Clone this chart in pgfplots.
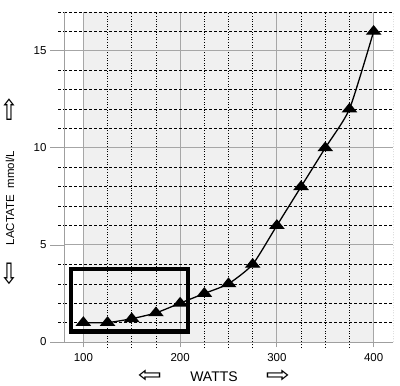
\documentclass[border=0pt]{standalone}
\usepackage{pgfplots}
\pgfplotsset{compat=1.18}
\usepackage{fontspec}
\setmainfont{Liberation Sans}
\newfontfamily\arrowfont{DejaVu Sans}
\begin{document}
\begin{tikzpicture}
\begin{axis}[
  name=ax,
  set layers,
  scale only axis,
  width=329pt, height=330pt,
  xmin=80, xmax=420, ymin=0, ymax=17,
  xtick={100,200,300,400},
  minor xtick={125,150,175,225,250,275,325,350,375},
  ytick={0,5,10,15},
  minor ytick={1,2,3,4,6,7,8,9,11,12,13,14,16,17},
  axis x line*=bottom, axis y line*=left,
  axis line style={gray!75, line width=0.8pt, -},
  grid=both,
  major grid style={gray!70, line width=0.9pt},
  every minor x tick/.append style={black, dash pattern=on 1pt off 1.6pt, line width=0.5pt},
  every minor y tick/.append style={black, dash pattern=on 3pt off 2pt, line width=0.5pt},
  minor x grid style={black, dash pattern=on 1pt off 1.6pt, line width=0.5pt},
  minor y grid style={black, dash pattern=on 3pt off 2pt, line width=0.5pt},
  tick align=outside,
  major tick length=5pt, minor tick length=6pt,
  every major tick/.append style={gray!75, line width=0.8pt},
  tick label style={font=\fontsize{11.5}{13}\selectfont, black},
  /pgf/number format/assume math mode=true,
  xticklabel style={yshift=-3pt},
  yticklabel style={xshift=-9pt},
]
\addplot[fill=gray!12, draw=none, on layer=axis background] coordinates {(100,0) (400,0) (400,17) (100,17)} \closedcycle;
\addplot[black, dash pattern=on 1pt off 1.6pt, line width=0.5pt] coordinates {(420,0) (420,17)};
\addplot[black, line width=4.5pt, line cap=rect, line join=miter] coordinates {(87,0.54) (208,0.54) (208,3.77) (87,3.77) (87,0.54)};
\addplot[black, line width=1.3pt, smooth, tension=0.35, mark=triangle*, mark size=5pt, mark options={xscale=1.5, yscale=1.07, solid}] coordinates {
(100,1) (125,1) (150,1.2) (175,1.5) (200,2) (225,2.5) (250,3) (275,4) (300,6) (325,8) (350,10) (375,12) (400,16)};
\end{axis}
% long y major ticks
\foreach \yy in {0,5,10,15} {
  \draw[gray!75, line width=0.8pt] ([yshift=\yy*330pt/17]ax.south west) -- ++(-14pt,0);
}
% y label
\node[rotate=90, font=\fontsize{11.5}{13}\selectfont] at ([shift={(-54pt,144pt)}]ax.south west) {LACTATE\hspace{0.6em}mmol/L};
\node[rotate=90, inner sep=0pt, font=\arrowfont\fontsize{18}{20}\selectfont] at ([shift={(-54pt,69pt)}]ax.south west) {\scalebox{1.6}[1.25]{⇦}};
\node[rotate=90, inner sep=0pt, font=\arrowfont\fontsize{18}{20}\selectfont] at ([shift={(-54pt,233pt)}]ax.south west) {\scalebox{1.6}[1.25]{⇨}};
% x label
\node[font=\fontsize{14}{16}\selectfont] at ([shift={(150pt,-35pt)}]ax.south west) {WATTS};
\node[inner sep=0pt, font=\arrowfont\fontsize{18}{20}\selectfont] at ([shift={(86pt,-34pt)}]ax.south west) {\scalebox{1.6}[1.25]{⇦}};
\node[inner sep=0pt, font=\arrowfont\fontsize{18}{20}\selectfont] at ([shift={(214pt,-34pt)}]ax.south west) {\scalebox{1.6}[1.25]{⇨}};
\pgfresetboundingbox
\path ([shift={(-64pt,-43pt)}]ax.south west) rectangle ([shift={(7pt,12pt)}]ax.north east);
\end{tikzpicture}
\end{document}
